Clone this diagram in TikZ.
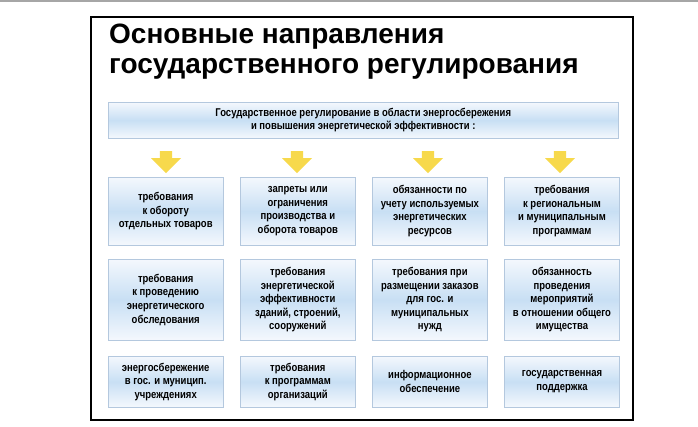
\documentclass[tikz,border=0pt]{standalone}
\usepackage{fontspec}
\setmainfont{Liberation Sans}
\newfontfamily\narrowfont[FakeStretch=0.84]{Liberation Sans}
\usetikzlibrary{shapes.arrows,positioning}
\definecolor{boxline}{HTML}{B4C8DE}
\definecolor{boxtop}{HTML}{F4F8FD}
\definecolor{boxmid}{HTML}{C8DFF4}
\definecolor{arrowfill}{HTML}{F7D94C}
\tikzset{
  item/.style={draw=boxline, rectangle, minimum width=115pt, minimum height=#1,
    top color=boxtop, bottom color=boxtop, middle color=boxmid,
    align=center, font=\narrowfont\bfseries\fontsize{11.3}{13.6}\selectfont, inner sep=1pt},
  down/.style={single arrow, fill=arrowfill, draw=none, rotate=-90,
    minimum height=22pt, minimum width=30pt, single arrow head extend=6pt,
    single arrow head indent=0pt, inner sep=4pt}
}
\begin{document}
\begin{tikzpicture}[x=1pt,y=-1pt]
\useasboundingbox (0,0) rectangle (698,427);
\fill[white] (0,0) rectangle (698,427);

% Frame
\draw[gray!70, line width=2pt] (0,1.5) -- (698,1.5);
\draw[line width=2pt] (91,17) rectangle (633,420);

% Title
\node[anchor=north west, align=left, font=\bfseries\fontsize{28}{30}\selectfont,
  inner sep=0] (title) at (109,24) {Основные направления\\государственного регулирования};

% Header
\node[item=36pt, minimum width=510pt, anchor=north west] (head) at (108,102)
  {Государственное регулирование в области энергосбережения\\и повышения энергетической эффективности :};

% Arrows
\foreach \i/\x in {1/166,2/297,3/428,4/560}
  \node[down] (arr\i) at (\x,159) {};

% Row 1
\node[item=68pt, anchor=north west] (r1a) at (108,177) {требования\\к обороту\\отдельных товаров};
\node[item=68pt, right=16.7pt of r1a] (r1b) {запреты или\\ограничения\\производства и\\оборота товаров};
\node[item=68pt, right=16.7pt of r1b] (r1c) {обязанности по\\учету используемых\\энергетических\\ресурсов};
\node[item=68pt, right=16.7pt of r1c] (r1d) {требования\\к региональным\\и муниципальным\\программам};

% Row 2
\node[item=81pt, anchor=north west] (r2a) at (108,259) {требования\\к проведению\\энергетического\\обследования};
\node[item=81pt, right=16.7pt of r2a] (r2b) {требования\\энергетической\\эффективности\\зданий, строений,\\сооружений};
\node[item=81pt, right=16.7pt of r2b] (r2c) {требования при\\размещении заказов\\для гос. и\\муниципальных\\нужд};
\node[item=81pt, right=16.7pt of r2c] (r2d) {обязанность\\проведения\\мероприятий\\в отношении общего\\имущества};

% Row 3
\node[item=51pt, anchor=north west] (r3a) at (108,356) {энергосбережение\\в гос. и муницип.\\учреждениях};
\node[item=51pt, right=16.7pt of r3a] (r3b) {требования\\к программам\\организаций};
\node[item=51pt, right=16.7pt of r3b] (r3c) {информационное\\обеспечение};
\node[item=51pt, right=16.7pt of r3c] (r3d) {государственная\\поддержка};
\end{tikzpicture}
\end{document}
